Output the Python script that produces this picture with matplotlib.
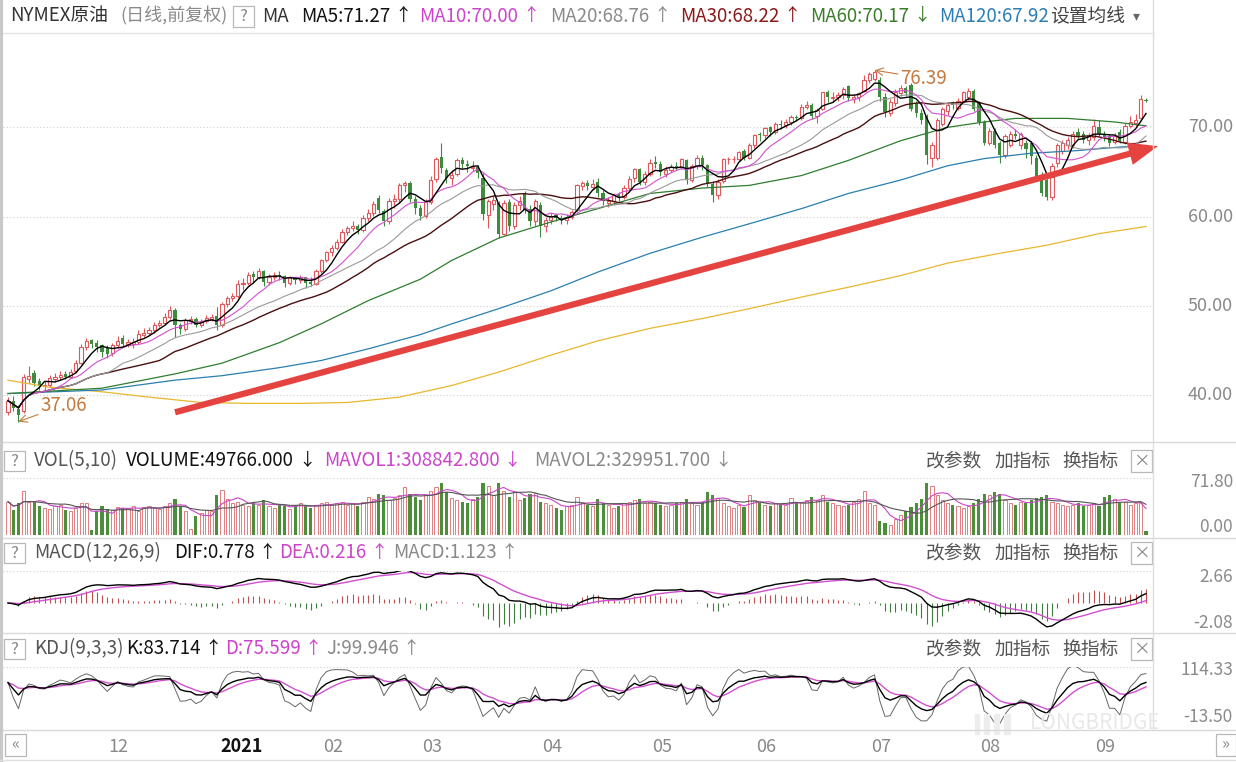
import numpy as np
import pandas as pd
import matplotlib
matplotlib.use("Agg")
import matplotlib.pyplot as plt
from matplotlib.lines import Line2D
from matplotlib.patches import Rectangle
from matplotlib.transforms import blended_transform_factory

plt.rcParams['font.family'] = ['Noto Sans CJK SC', 'DejaVu Sans']

# daily candles, 2020-11-04 .. 2021-09-17
opens = [38.1, 39.4, 38.5, 38.2, 41.8, 42.5, 41.6, 41.0, 41.2, 41.8, 42.0, 42.4, 42.1, 42.7, 43.6, 45.4, 46.2, 45.9,
         45.6, 45.3, 44.7, 45.6, 46.4, 45.8, 45.7, 46.0, 46.8, 47.0, 47.3, 47.9, 48.1, 48.8, 49.5, 47.9, 47.4, 48.3, 48.6, 47.9, 48.3, 48.6,
         48.9, 47.9, 50.2, 50.9, 51.1, 52.5, 52.6, 53.6, 53.2, 53.9, 52.7, 53.3, 53.5, 53.4, 52.6, 53.1, 52.9, 53.2, 52.7,
         52.5, 53.9, 55.1, 56.0, 56.5, 57.2, 58.3, 58.7, 59.0, 58.5, 59.8, 60.4, 62.1, 60.6, 59.5, 61.8, 62.0, 63.5, 63.8,
         62.0, 61.0, 60.1, 61.6, 64.2, 66.7, 65.2, 64.3, 64.8, 66.3, 65.9, 65.4, 65.6, 64.3, 60.2, 61.4, 61.5, 58.1, 61.6, 59.0, 61.3, 62.6, 60.9,
         59.5, 61.3, 58.9, 59.6, 60.2, 59.9, 59.6, 60.0, 60.7, 63.4, 63.8, 63.3, 63.9, 62.7, 61.5, 61.7, 62.5, 62.2, 63.2, 64.3, 65.3,
         63.9, 64.8, 66.1, 65.9, 64.8, 65.2, 65.7, 65.6, 66.3, 64.1, 65.7, 66.6, 65.8, 63.7, 62.4, 64.0, 66.4, 66.4, 66.5, 67.3,
         66.6, 68.0, 69.2, 69.1, 70.0, 69.5, 70.4, 70.3, 70.6, 71.2, 71.1, 72.3, 72.5, 71.3, 72.0, 73.9, 73.3, 73.4, 73.6, 74.6, 73.2, 73.4,
         74.1, 75.3, 75.4, 75.3, 73.4, 71.6, 72.7, 73.8, 74.4, 74.7, 72.7, 71.6, 71.3, 66.6, 66.6, 70.4, 71.8, 72.8, 72.2, 73.0, 73.4,
         74.1, 72.7, 70.6, 68.3, 69.6, 68.2, 66.9, 68.0, 69.3, 68.0, 68.3, 68.2, 66.6, 64.6, 64.1, 62.2, 66.0, 67.3, 68.0, 68.0, 69.5, 69.3,
         68.6, 68.9, 70.0, 69.3, 69.0, 68.4, 69.5, 68.4, 70.2, 70.5, 71.1, 73.0]
highs = [39.8, 39.9, 38.9, 42.4, 43.3, 42.8, 41.9, 41.6, 42.3, 42.5, 42.7, 42.7, 43.0, 44.0, 45.8, 46.4, 46.3, 46.2,
         45.8, 45.6, 45.9, 46.6, 46.7, 46.3, 46.4, 47.3, 47.5, 47.7, 48.2, 48.4, 49.2, 50.0, 49.8, 48.1, 48.7, 48.9, 48.8, 48.6, 49.0, 49.1,
         49.9, 50.5, 51.1, 51.4, 52.9, 53.1, 53.8, 53.9, 54.2, 54.0, 53.6, 53.8, 53.9, 53.5, 53.4, 53.3, 53.5, 53.3, 53.2,
         54.1, 55.3, 56.2, 56.8, 57.5, 58.6, 58.9, 59.5, 59.2, 60.2, 60.9, 61.7, 62.4, 60.9, 62.1, 62.5, 63.8, 64.0, 64.0,
         62.3, 61.3, 62.0, 64.5, 66.7, 68.3, 65.5, 65.2, 66.6, 66.7, 66.3, 66.2, 65.8, 64.9, 62.0, 62.3, 61.8, 61.9, 62.0, 61.6, 62.3, 62.9, 61.3,
         62.0, 61.6, 60.0, 60.4, 60.4, 60.2, 60.3, 60.8, 63.7, 64.0, 64.1, 64.2, 64.3, 63.0, 62.2, 62.7, 62.8, 63.5, 64.5, 65.5, 65.5,
         65.1, 66.4, 66.8, 66.2, 65.7, 65.9, 66.1, 66.6, 66.4, 65.9, 66.9, 66.9, 65.9, 64.0, 64.2, 66.6, 66.7, 66.8, 67.4, 67.6,
         68.3, 69.3, 69.5, 70.0, 70.1, 70.6, 70.8, 70.9, 71.4, 71.4, 72.6, 73.0, 72.7, 72.2, 74.0, 74.2, 73.9, 73.9, 74.5, 74.7, 73.7, 74.0,
         75.9, 76.2, 76.39, 75.6, 73.8, 73.2, 74.3, 74.7, 74.6, 75.0, 73.0, 72.0, 71.5, 68.4, 71.0, 72.3, 72.8, 73.0, 73.3, 74.1, 74.4,
         74.3, 72.9, 70.8, 69.9, 69.9, 68.5, 69.2, 69.6, 69.8, 69.5, 68.6, 68.5, 66.9, 65.0, 64.4, 66.0, 68.3, 68.6, 68.9, 69.6, 69.9, 69.6,
         69.4, 70.9, 70.8, 69.6, 69.3, 69.4, 69.8, 70.5, 71.3, 71.5, 73.6, 73.3]
lows = [37.8, 38.2, 37.06, 38.0, 41.4, 41.1, 40.6, 40.5, 40.9, 41.5, 41.7, 41.8, 41.9, 42.5, 43.5, 45.1, 45.3, 44.9,
        44.3, 44.2, 44.4, 45.3, 45.5, 45.4, 45.3, 45.8, 46.5, 46.8, 47.0, 47.6, 47.9, 48.6, 46.5, 46.9, 47.2, 48.0, 47.6, 47.7, 48.1, 48.3,
        47.3, 47.7, 49.9, 50.6, 50.9, 51.8, 52.3, 52.6, 53.0, 52.2, 52.4, 52.9, 52.9, 52.1, 52.3, 52.5, 52.6, 52.0, 52.2,
        52.3, 53.7, 54.9, 55.6, 56.3, 57.0, 57.9, 58.4, 58.1, 58.3, 59.5, 60.1, 60.4, 58.9, 59.2, 61.0, 61.5, 62.8, 61.6,
        60.3, 59.6, 59.8, 61.4, 63.9, 64.9, 63.8, 63.6, 64.5, 65.4, 65.0, 65.1, 64.3, 59.6, 58.7, 60.8, 57.6, 57.9, 58.4, 58.6, 60.8, 60.4, 59.0,
        59.0, 57.7, 58.3, 59.2, 59.5, 59.2, 59.2, 59.7, 60.5, 63.0, 63.0, 63.0, 62.2, 61.3, 61.1, 61.3, 61.8, 62.0, 62.9, 63.9, 63.5,
        63.6, 64.5, 65.5, 64.6, 64.4, 65.0, 65.2, 65.3, 63.7, 63.9, 65.3, 65.2, 63.3, 61.6, 62.0, 63.8, 65.9, 66.0, 66.2, 66.3,
        66.4, 67.7, 68.5, 68.8, 69.0, 69.2, 69.8, 69.9, 70.3, 70.7, 70.8, 72.0, 70.9, 70.5, 71.9, 72.8, 72.8, 73.0, 73.2, 72.9, 72.7, 73.0,
        73.9, 75.0, 75.2, 73.0, 71.2, 71.3, 72.4, 73.5, 73.5, 71.8, 71.2, 70.4, 65.9, 65.6, 66.3, 70.1, 71.4, 72.0, 71.9, 72.7, 73.1,
        71.8, 70.3, 68.0, 68.0, 67.7, 66.0, 66.6, 67.8, 68.7, 67.6, 66.6, 65.9, 64.3, 62.3, 61.9, 61.9, 65.6, 67.0, 67.6, 67.7, 68.7, 68.2,
        68.0, 68.6, 69.0, 68.5, 67.9, 68.1, 68.2, 68.1, 69.9, 70.2, 70.9, 72.8]
closes = [39.4, 38.6, 37.8, 42.0, 42.2, 41.4, 41.0, 41.2, 41.9, 42.0, 42.3, 42.1, 42.6, 43.6, 45.4, 46.1, 45.7, 45.4,
          44.9, 44.6, 45.6, 46.1, 45.8, 46.0, 46.0, 46.9, 47.0, 47.3, 47.9, 48.1, 48.8, 49.5, 47.9, 47.4, 48.4, 48.5, 47.9, 48.3, 48.7, 48.8,
          47.9, 50.2, 50.9, 51.1, 52.5, 52.6, 53.5, 53.2, 53.9, 52.7, 53.3, 53.5, 53.4, 52.6, 53.1, 52.9, 53.2, 52.6, 52.5,
          53.9, 55.1, 56.0, 56.5, 57.2, 58.3, 58.7, 59.0, 58.5, 59.8, 60.4, 61.4, 60.8, 59.5, 61.8, 62.0, 63.5, 63.8, 62.0,
          61.0, 60.1, 61.6, 64.1, 66.4, 65.4, 64.3, 64.7, 66.3, 65.9, 65.7, 65.6, 64.9, 60.3, 61.7, 61.9, 58.1, 61.5, 58.9, 61.3, 61.8, 60.8, 59.5,
          61.7, 58.9, 59.6, 60.1, 59.9, 59.6, 60.0, 60.5, 63.5, 63.8, 63.4, 63.7, 62.7, 61.7, 61.7, 62.4, 62.2, 63.2, 64.2, 65.3, 63.9,
          64.8, 66.0, 65.9, 65.0, 65.2, 65.6, 65.6, 66.4, 64.1, 65.7, 66.6, 65.8, 63.7, 62.4, 63.9, 66.4, 66.4, 66.5, 67.2, 66.6,
          68.0, 69.1, 69.1, 69.9, 69.5, 70.4, 70.3, 70.6, 71.2, 71.1, 72.3, 72.5, 71.3, 71.9, 73.9, 73.4, 73.4, 73.6, 74.3, 73.3, 73.4, 73.8,
          75.3, 76.0, 76.2, 73.4, 71.7, 72.8, 74.0, 74.4, 73.8, 72.1, 71.6, 70.8, 66.9, 68.0, 70.8, 72.1, 72.5, 72.5, 73.0, 73.9, 74.1,
          72.1, 70.6, 68.3, 69.6, 68.0, 66.9, 69.0, 69.2, 69.0, 69.2, 67.6, 66.8, 64.6, 62.7, 62.2, 65.7, 68.0, 68.2, 68.6, 69.3, 69.0, 68.6,
          69.1, 70.2, 69.3, 68.9, 68.3, 69.0, 68.5, 70.2, 70.6, 70.8, 73.2, 72.95]
# volume in 10k contracts
volumes = [42, 31, 40, 55, 42, 42, 37, 34, 33, 36, 38, 32, 30, 34, 40, 40, 6, 30,
           36, 33, 31, 35, 34, 34, 36, 30, 35, 37, 34, 33, 36, 40, 45, 36, 30, 8, 24, 28, 32, 30,
           50, 57, 45, 40, 42, 38, 36, 40, 38, 44, 36, 34, 38, 36, 33, 38, 40, 36, 34,
           38, 40, 42, 38, 40, 42, 38, 40, 36, 42, 48, 45, 52, 50, 44, 46, 50, 60, 52,
           48, 44, 50, 56, 60, 66, 54, 46, 44, 42, 40, 45, 48, 66, 62, 50, 65, 56, 48, 54, 44, 46, 52,
           53, 42, 40, 38, 34, 32, 36, 38, 48, 42, 38, 36, 45, 40, 38, 34, 36, 40, 42, 44, 45,
           40, 42, 40, 38, 36, 38, 40, 42, 45, 40, 38, 42, 54, 50, 47, 40, 36, 34, 38, 35,
           51, 44, 40, 38, 36, 40, 38, 38, 46, 40, 42, 44, 48, 44, 50, 42, 40, 38, 36, 38, 42, 45,
           56, 40, 38, 18, 15, 13, 20, 25, 30, 35, 40, 45, 65, 62, 50, 44, 40, 38, 36, 34, 36,
           40, 45, 52, 50, 54, 52, 44, 40, 38, 42, 40, 44, 46, 48, 50, 42, 40, 38, 36, 38, 40, 36,
           38, 40, 36, 48, 50, 45, 40, 42, 38, 40, 42, 5]

# long moving averages (they need history before the window)
ma60_day = [0, 18, 32, 41, 52, 60, 69, 79, 85, 94, 104, 113, 123, 133, 142, 152, 161, 171, 180, 187, 193, 203, 212, 218]
ma60_val = [40.2, 40.8, 42.4, 43.6, 45.9, 48.0, 50.6, 53.0, 55.1, 57.6, 59.4, 60.9, 62.6, 63.2, 63.5, 64.6, 66.3, 68.5,
            70.0, 70.6, 71.0, 71.0, 70.6, 70.17]
ma120_day = [0, 18, 32, 41, 52, 60, 69, 79, 85, 94, 104, 113, 123, 133, 142, 152, 161, 171, 180, 187, 196, 205, 213, 218]
ma120_val = [40.2, 40.6, 41.7, 42.2, 43.1, 43.9, 45.2, 46.8, 48.0, 49.7, 51.7, 53.8, 55.9, 57.7, 59.2, 60.9, 62.6, 64.1,
             65.7, 66.5, 67.1, 67.4, 67.8, 67.92]
ma250_day = [0, 8, 18, 27, 37, 46, 56, 65, 75, 85, 94, 104, 113, 123, 133, 142, 152, 161, 171, 180, 190, 199, 209, 218]
ma250_val = [41.7, 40.9, 40.4, 39.8, 39.2, 39.1, 39.1, 39.2, 39.8, 41.1, 42.6, 44.5, 46.1, 47.5, 48.6, 49.7, 51.0, 52.1,
             53.4, 54.8, 55.9, 56.8, 58.1, 58.9]

month_day = [18, 40, 59, 78, 101, 122, 142, 164, 185, 207]
month_labels = ['12', '2021', '02', '03', '04', '05', '06', '07', '08', '09']

W, H = 1236, 762
fig = plt.figure(figsize=(W / 100, H / 100), dpi=100)
renderer = fig.canvas.get_renderer()


def box(x0, y0, x1, y1):
    return [x0 / W, 1 - y1 / H, (x1 - x0) / W, (y1 - y0) / H]


def ftext(px, py, s, color, size=12, ha='left', **kw):
    return fig.text(px / W, 1 - py / H, s, color=color, fontsize=size, ha=ha, va='center', **kw)


def right_edge(t):
    return t.get_window_extent(renderer).x1


def fline(x0, y0, x1, y1, color='#dcdcdc', lw=1, ls='-'):
    fig.add_artist(Line2D([x0 / W, x1 / W], [1 - y0 / H, 1 - y1 / H], color=color, lw=lw, ls=ls))


def fbox(x0, y0, x1, y1, s=None, ec='#b8b8b8', fc='none'):
    fig.add_artist(Rectangle((x0 / W, 1 - y1 / H), (x1 - x0) / W, (y1 - y0) / H,
                             transform=fig.transFigure, fill=(fc != 'none'), fc=fc, ec=ec, lw=0.9))
    if s:
        ftext((x0 + x1) / 2, (y0 + y1) / 2, s, '#888', size=12, ha='center')


def label_with_arrow(px, py, s, arrow, color, size=13.5):
    t = ftext(px, py, s, color, size=size)
    if arrow:
        ftext(right_edge(t) + 4, py, arrow, color, size=size - 1)
    return t


o = np.array(opens)
h = np.array(highs)
l = np.array(lows)
c = np.array(closes)
v = np.array(volumes, dtype=float)
x = np.arange(len(c))
up = c >= o
xlim = ((3 - 8) / 5.22, (1152 - 8) / 5.22)

RED = '#e0575b'
GREEN = '#3d8b3d'

# ---------------- main price panel ----------------
ax = fig.add_axes(box(3, 38, 1152, 440))
ax.set_xlim(*xlim)
ax.set_ylim(35, 80)
ax.set_axis_off()
for lev in [40, 50, 60, 70]:
    ax.axhline(lev, color='#cfcfcf', lw=0.8, ls=(0, (1, 2)), zorder=0)

ax.vlines(x[up], l[up], h[up], color=RED, lw=0.8, zorder=2)
ax.vlines(x[~up], l[~up], h[~up], color=GREEN, lw=0.8, zorder=2)
ax.bar(x[up], np.maximum(c[up] - o[up], 0.05), bottom=o[up], width=0.62,
       facecolor='white', edgecolor=RED, lw=0.8, zorder=3)
ax.bar(x[~up], np.maximum(o[~up] - c[~up], 0.08), bottom=c[~up], width=0.62,
       color=GREEN, lw=0, zorder=3)

cs = pd.Series(c)
ax.plot(ma250_day, ma250_val, color='#e8b72e', lw=0.9, zorder=4)
ax.plot(ma120_day, ma120_val, color='#2a7fb0', lw=0.9, zorder=4)
ax.plot(ma60_day, ma60_val, color='#2f7d2f', lw=0.9, zorder=4)
ax.plot(x, cs.rolling(30, min_periods=1).mean(), color='#4a0f0f', lw=1.0, zorder=4)
ax.plot(x, cs.rolling(20, min_periods=1).mean(), color='#9a9a9a', lw=0.8, zorder=4)
ax.plot(x, cs.rolling(10, min_periods=1).mean(), color='#d24fd2', lw=0.8, zorder=4)
ax.plot(x, cs.rolling(5, min_periods=1).mean(), color='#000000', lw=1.0, zorder=5)

# trend arrow
ax.annotate('', xy=(220.3, 67.9), xytext=(32, 38.1), annotation_clip=False, zorder=6,
            arrowprops=dict(arrowstyle='simple,head_length=0.7,head_width=0.55,tail_width=0.15',
                            mutation_scale=30, color='#e5433f', lw=0, shrinkA=0, shrinkB=0))

# high / low markers
hi_i = int(np.argmax(h))
lo_i = int(np.argmin(l))
ax.annotate('%.2f' % h[hi_i], xy=(hi_i, h[hi_i]), xytext=(hi_i + 5, 75.5), color='#c47a3e',
            fontsize=13.5, va='center', ha='left',
            arrowprops=dict(arrowstyle='->', color='#c47a3e', lw=0.8, shrinkA=0, shrinkB=0))
ax.annotate('%.2f' % l[lo_i], xy=(lo_i, l[lo_i]), xytext=(lo_i + 4.3, 38.9), color='#c47a3e',
            fontsize=13.5, va='center', ha='left',
            arrowprops=dict(arrowstyle='->', color='#c47a3e', lw=0.8, shrinkA=0, shrinkB=0))

tr = blended_transform_factory(fig.transFigure, ax.transData)
for lev in [70, 60, 50, 40]:
    ax.text(1233 / W, lev, '%.2f' % lev, transform=tr, ha='right', va='center',
            color='#8a8a8a', fontsize=13, clip_on=False)

# ---------------- volume panel ----------------
axv = fig.add_axes(box(3, 478, 1152, 535))
axv.set_xlim(*xlim)
axv.set_ylim(0, 71.8)
axv.set_axis_off()
axv.axhline(71.8, color='#cfcfcf', lw=0.8, ls=(0, (1, 2)))
axv.bar(x[up], v[up], width=0.6, facecolor='white', edgecolor='#e07f82', lw=0.7)
axv.bar(x[~up], v[~up], width=0.6, color='#4b8f3b', lw=0)
vs = pd.Series(v)
axv.plot(x, vs.rolling(5, min_periods=1).mean(), color='#c845c8', lw=0.8)
axv.plot(x, vs.rolling(10, min_periods=1).mean(), color='#555555', lw=0.8)

# ---------------- MACD panel ----------------
ema12 = cs.ewm(span=12, adjust=False).mean()
ema26 = cs.ewm(span=26, adjust=False).mean()
dif = ema12 - ema26
dea = dif.ewm(span=9, adjust=False).mean()
hist = 2 * (dif - dea)

axm = fig.add_axes(box(3, 571, 1152, 628))
axm.set_xlim(*xlim)
axm.set_ylim(-2.08, 2.66)
axm.set_axis_off()
axm.axhline(2.66, color='#cfcfcf', lw=0.8, ls=(0, (1, 2)))
axm.axhline(-2.08, color='#cfcfcf', lw=0.8, ls=(0, (1, 2)))
hcol = np.where(hist >= 0, '#c0504d', '#3d7d3d')
axm.vlines(x, 0, hist, colors=hcol, lw=0.8)
axm.plot(x, dea, color='#d24fd2', lw=1.0)
axm.plot(x, dif, color='#000000', lw=1.0)

# ---------------- KDJ panel ----------------
ls_ = pd.Series(l).rolling(9, min_periods=1).min()
hs_ = pd.Series(h).rolling(9, min_periods=1).max()
rsv = (cs - ls_) / (hs_ - ls_) * 100
k = rsv.ewm(alpha=1 / 3, adjust=False).mean()
d = k.ewm(alpha=1 / 3, adjust=False).mean()
j = 3 * k - 2 * d

axk = fig.add_axes(box(3, 667, 1152, 725))
axk.set_xlim(*xlim)
axk.set_ylim(-13.5, 114.33)
axk.set_axis_off()
axk.axhline(114.33, color='#cfcfcf', lw=0.8, ls=(0, (1, 2)))
axk.plot(x, j, color='#666666', lw=0.7)
axk.plot(x, d, color='#d24fd2', lw=1.0)
axk.plot(x, k, color='#000000', lw=1.0)

# ---------------- frame lines ----------------
fline(0, 33, 1153, 33, '#e4e4e4')
for py in [442, 538, 633, 730]:
    fline(0, py, W, py, '#d9d9d9')
fline(1153, 0, 1153, 730, '#dedede')
fline(1.5, 0, 1.5, 762, '#c8c8c8', lw=3)
fline(0, 760, W, 760, '#e0e0e0')

# faint watermark (drawn early so it sits under everything)
for bx0, bx1 in [(975, 979), (984, 989), (994, 999), (1004, 1010)]:
    fbox(bx0, 714, bx1, 734, ec='#ededed', fc='#ededed')
ftext(1030, 723, 'LONGBRIDGE', '#e8e8e8', size=15)

# right-hand labels of the sub panels
for py, s in [(482, '71.80'), (527, '0.00'), (577, '2.66'), (623, '-2.08'), (670, '114.33'), (717, '-13.50')]:
    ftext(1233, py, s, '#8a8a8a', size=12.5, ha='right')

# ---------------- header texts ----------------
ftext(10, 16, 'NYMEX原油', '#333333', size=13.5)
ftext(120, 16, '(日线,前复权)', '#8a8a8a', size=13)
fbox(233, 6, 254, 27, '?')
ftext(262, 16, 'MA', '#333333', size=13.5)
label_with_arrow(301, 16, 'MA5:71.27', '↑', '#111111')
label_with_arrow(419, 16, 'MA10:70.00', '↑', '#cc44cc')
label_with_arrow(550, 16, 'MA20:68.76', '↑', '#8a8a8a')
label_with_arrow(680, 16, 'MA30:68.22', '↑', '#8b1a1a')
label_with_arrow(810, 16, 'MA60:70.17', '↓', '#3a7d2a')
t120 = label_with_arrow(939, 16, 'MA120:67.92', None, '#2b7fb5')
t_set = ftext(right_edge(t120) + 1, 16, '设置均线', '#444444', size=13.5)
ftext(right_edge(t_set) + 8, 16, '▾', '#666666', size=10)

panel_heads = [
    (461, 'VOL(5,10)', [(126, 'VOLUME:49766.000', '↓', '#111111'),
                        (324, 'MAVOL1:308842.800', '↓', '#cc44cc'),
                        (534, 'MAVOL2:329951.700', '↓', '#8a8a8a')]),
    (553, 'MACD(12,26,9)', [(174, 'DIF:0.778', '↑', '#111111'),
                            (279, 'DEA:0.216', '↑', '#cc44cc'),
                            (393, 'MACD:1.123', '↑', '#8a8a8a')]),
    (649, 'KDJ(9,3,3)', [(126, 'K:83.714', '↑', '#111111'),
                         (225, 'D:75.599', '↑', '#cc44cc'),
                         (326, 'J:99.946', '↑', '#8a8a8a')]),
]
for py, name, items in panel_heads:
    fbox(4, py - 10, 25, py + 10, '?')
    ftext(34, py, name, '#555555', size=13.5)
    for px, s, arr, col in items:
        label_with_arrow(px, py, s, arr, col)
    ftext(926, py, '改参数', '#555555', size=13.5)
    ftext(994, py, '加指标', '#555555', size=13.5)
    ftext(1062, py, '换指标', '#555555', size=13.5)
    fbox(1131, py - 11, 1152, py + 11, '×')

# ---------------- x axis row ----------------
trx = blended_transform_factory(axk.transData, fig.transFigure)
for md, lab in zip(month_day, month_labels):
    axk.add_artist(Line2D([md, md], [1 - 730 / H, 1 - 736 / H], transform=trx, color='#cccccc', lw=1))
    if lab == '2021':
        axk.text(md + 0.7, 1 - 747 / H, lab, transform=trx, ha='left', va='center',
                 fontsize=13, color='#111111', fontweight='bold', clip_on=False)
    else:
        axk.text(md + 1.3, 1 - 747 / H, lab, transform=trx, ha='left', va='center',
                 fontsize=13, color='#888888', clip_on=False)
fbox(5, 734, 26, 756, '«')
fbox(1216, 734, 1236, 756, '»')

fig.savefig('out.png', dpi=100, facecolor='white')
